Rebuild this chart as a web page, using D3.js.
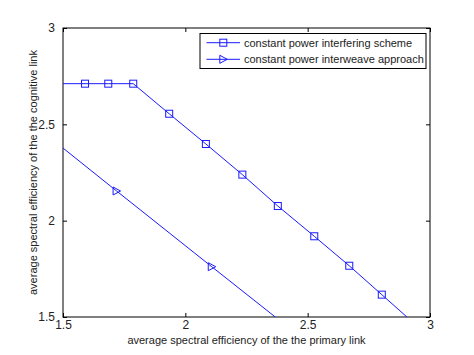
<!DOCTYPE html>
<html><head><meta charset="utf-8">
<script src="https://cdn.jsdelivr.net/npm/d3@7"></script>
<style>body{margin:0;background:#fff}svg{display:block}text{font-family:"Liberation Sans",Arial,sans-serif;fill:#222}</style>
</head><body>
<svg id="c" width="474" height="355"></svg>
<script>
const xTicks = [1.5, 2, 2.5, 3];
const yTicks = [1.5, 2, 2.5, 3];
const seriesNames = ["constant power interfering scheme", "constant power interweave approach"];
const sqX = [1.49, 1.590, 1.685, 1.787, 1.934, 2.084, 2.233, 2.378, 2.527, 2.670, 2.803, 2.95];
const sqY = [2.711, 2.711, 2.711, 2.711, 2.555, 2.398, 2.239, 2.076, 1.919, 1.766, 1.616, 1.45];
const trX = [1.33, 1.719, 2.108, 2.497];
const trY = [2.55, 2.154, 1.761, 1.37];

const svg = d3.select("#c");
const L = 63, R = 430, T = 28, B = 317;
const x = d3.scaleLinear().domain([1.5, 3]).range([L, R]);
const y = d3.scaleLinear().domain([1.5, 3]).range([B, T]);
const blue = "#1a1aff";

svg.append("defs").append("clipPath").attr("id","clip").append("rect")
  .attr("x", L).attr("y", T).attr("width", R - L).attr("height", B - T);

const fmt = d => String(d);
svg.append("g").attr("transform", `translate(0,${B})`)
  .call(d3.axisBottom(x).tickValues(xTicks).tickSizeInner(-4).tickSizeOuter(0).tickPadding(3).tickFormat(fmt))
  .call(g => g.select(".domain").remove());
svg.append("g").attr("transform", `translate(${L},0)`)
  .call(d3.axisLeft(y).tickValues(yTicks).tickSizeInner(-4).tickSizeOuter(0).tickPadding(8).tickFormat(fmt))
  .call(g => g.select(".domain").remove());
svg.append("g").attr("transform", `translate(0,${T})`)
  .call(d3.axisTop(x).tickValues(xTicks).tickSizeInner(-4).tickSizeOuter(0).tickFormat(""))
  .call(g => g.select(".domain").remove());
svg.append("g").attr("transform", `translate(${R},0)`)
  .call(d3.axisRight(y).tickValues(yTicks).tickSizeInner(-4).tickSizeOuter(0).tickFormat(""))
  .call(g => g.select(".domain").remove());
svg.selectAll(".tick text").style("font-size", "12px").style("font-family", '"Liberation Sans",Arial,sans-serif').attr("fill", "#222");
svg.selectAll(".tick line").attr("stroke", "#000");

svg.append("rect").attr("x", L).attr("y", T).attr("width", R - L).attr("height", B - T)
  .attr("fill", "none").attr("stroke", "#000").attr("stroke-width", 1);

const line = d3.line().x(d => x(d[0])).y(d => y(d[1]));
const sq = sqX.map((v, i) => [v, sqY[i]]);
const tr = trX.map((v, i) => [v, trY[i]]);
const inside = d => d[0] >= 1.5 && d[0] <= 3 && d[1] >= 1.5 && d[1] <= 3;
const plot = svg.append("g").attr("clip-path", "url(#clip)");
plot.append("path").datum(sq).attr("d", line).attr("fill", "none").attr("stroke", blue).attr("stroke-width", 1);
plot.append("path").datum(tr).attr("d", line).attr("fill", "none").attr("stroke", blue).attr("stroke-width", 1);
const s = 7;
plot.selectAll(".sq").data(sq.filter(inside)).enter().append("rect")
  .attr("x", d => x(d[0]) - s / 2).attr("y", d => y(d[1]) - s / 2).attr("width", s).attr("height", s)
  .attr("fill", "none").attr("stroke", blue).attr("stroke-width", 1);
const triPath = (cx, cy) => `M${cx - 3.5},${cy - 4}L${cx + 4},${cy}L${cx - 3.5},${cy + 4}Z`;
plot.selectAll(".tr").data(tr.filter(inside)).enter().append("path")
  .attr("d", d => triPath(x(d[0]), y(d[1])))
  .attr("fill", "none").attr("stroke", blue).attr("stroke-width", 1);

const lg = svg.append("g");
lg.append("rect").attr("x", 200).attr("y", 33.5).attr("width", 226).attr("height", 35)
  .attr("fill", "#fff").attr("stroke", "#000").attr("stroke-width", 1);
[42.7, 59.3].forEach((ry, i) => {
  lg.append("line").attr("x1", 206.5).attr("x2", 240).attr("y1", ry).attr("y2", ry).attr("stroke", blue);
  if (i === 0) lg.append("rect").attr("x", 223.3 - s / 2).attr("y", ry - s / 2).attr("width", s).attr("height", s).attr("fill", "none").attr("stroke", blue);
  else lg.append("path").attr("d", triPath(223.3, ry)).attr("fill", "none").attr("stroke", blue);
  lg.append("text").attr("x", 244).attr("y", ry + 4).style("font-size", "11px").text(seriesNames[i]);
});

svg.append("text").attr("x", (L + R) / 2).attr("y", 344).attr("text-anchor", "middle").style("font-size", "11px")
  .text("average spectral efficiency of the the primary link");
svg.append("text").attr("transform", `translate(37,${(T + B) / 2}) rotate(-90)`).attr("text-anchor", "middle").style("font-size", "11px")
  .text("average spectral efficiency of the the cognitive link");
</script>
</body></html>
